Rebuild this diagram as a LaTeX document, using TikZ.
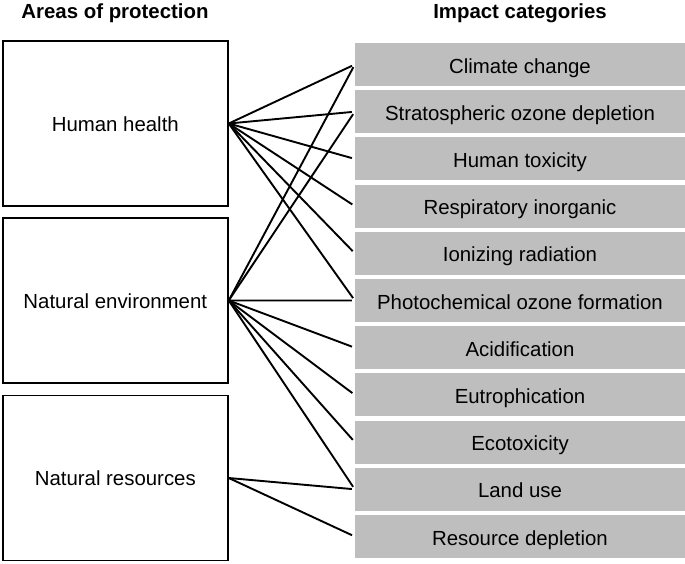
\documentclass[tikz,border=0pt]{standalone}
\usepackage{fontspec}
\setmainfont{Liberation Sans}
\definecolor{catgray}{RGB}{190,190,190}
\tikzset{
  areabox/.style={draw=black, line width=1.9pt, minimum width=225pt, minimum height=165pt, inner sep=0pt, text height=15pt, text depth=0pt, font=\fontsize{20.4}{24}\selectfont},
  catbox/.style={fill=catgray, draw=none, minimum width=330pt, minimum height=43pt, inner sep=0pt, text height=17pt, text depth=0pt, font=\fontsize{20.4}{24}\selectfont},
  header/.style={font=\fontsize{20.4}{24}\selectfont\bfseries, inner sep=0pt},
  link/.style={line width=1.9pt, shorten >=3pt},
}
\begin{document}
\begin{tikzpicture}[x=1pt,y=-1pt]
\useasboundingbox (0,0) rectangle (685,563);
\node[header] (h1) at (115,13) {Areas of protection};
\node[header] (h2) at (520,13) {Impact categories};
\node[areabox] (hh) at (115.3,123.5) {Human health};
\node[areabox] (ne) at (115.3,300.5) {Natural environment};
\node[areabox] (nr) at (115.3,478) {Natural resources};
\foreach \n/\t [count=\i from 0] in {c1/Climate change, c2/Stratospheric ozone depletion, c3/Human toxicity, c4/Respiratory inorganic, c5/Ionizing radiation, c6/Photochemical ozone formation, c7/Acidification, c8/Eutrophication, c9/Ecotoxicity, c10/Land use, c11/Resource depletion}
  \node[catbox] (\n) at (520,64.5+47.2*\i) {\t};
\foreach \c in {c1,c2,c3,c4,c5,c6}
  \draw[link] (hh.east) -- (\c.west);
\foreach \c in {c1,c2,c6,c7,c8,c9,c10}
  \draw[link] (ne.east) -- (\c.west);
\foreach \c in {c10,c11}
  \draw[link] (nr.east) -- (\c.west);
\end{tikzpicture}
\end{document}
